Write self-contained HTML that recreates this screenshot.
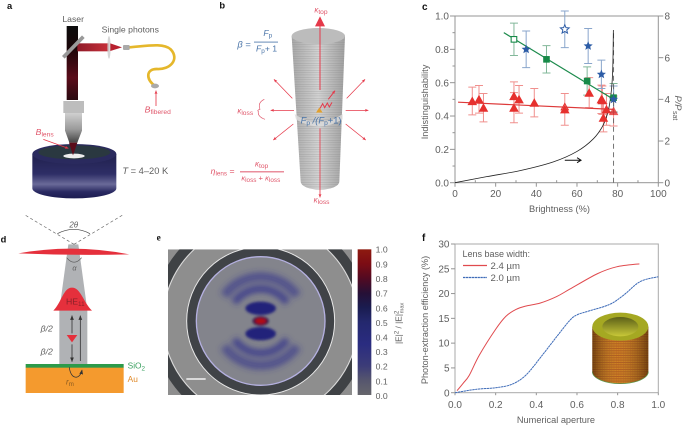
<!DOCTYPE html>
<html>
<head>
<meta charset="utf-8">
<title>Single-photon source figure</title>
<style>
html,body{margin:0;padding:0;background:#fff;width:685px;height:426px;overflow:hidden}
svg{display:block;filter:blur(.35px)}
text{font-family:"Liberation Sans",sans-serif;fill:#5f5f5f}
.it{font-style:italic}
.panel{font-weight:bold;fill:#111;font-size:10px}
.red{fill:#e0566a}
.blue{fill:#4a74a8}
</style>
</head>
<body>
<svg id="fig" xmlns="http://www.w3.org/2000/svg" width="685" height="426" viewBox="0 0 685 426">
<defs>
<linearGradient id="laserGrad" x1="0" y1="0" x2="0" y2="1"><stop offset="0" stop-color="#0c0c0c"/><stop offset=".3" stop-color="#1a0508"/><stop offset=".7" stop-color="#5a0c1a"/><stop offset="1" stop-color="#2a0a10"/></linearGradient>
<linearGradient id="beamGrad" x1="0" y1="0" x2="1" y2="0"><stop offset="0" stop-color="#8e1a28"/><stop offset="1" stop-color="#c8303a"/></linearGradient>
<linearGradient id="objGrad" x1="0" y1="0" x2="0" y2="1"><stop offset="0" stop-color="#d0d0d0"/><stop offset=".55" stop-color="#9a9a9a"/><stop offset="1" stop-color="#444"/></linearGradient>
<linearGradient id="cryoGrad" x1="0" y1="0" x2="0" y2="1"><stop offset="0" stop-color="#20204e"/><stop offset=".45" stop-color="#2e2e66"/><stop offset=".68" stop-color="#6a6a98"/><stop offset=".85" stop-color="#2a2a62"/><stop offset="1" stop-color="#1c1c50"/></linearGradient>
<linearGradient id="cylGrad" x1="0" y1="0" x2="1" y2="0"><stop offset="0" stop-color="#a8a8a8"/><stop offset=".5" stop-color="#d2d2d2"/><stop offset="1" stop-color="#a0a0a0"/></linearGradient>
<pattern id="stripes" width="8" height="7" patternUnits="userSpaceOnUse"><rect width="8" height="7" fill="none"/><rect y="0" width="8" height="1.6" fill="#777" opacity=".35"/></pattern>
<pattern id="insetStripes" width="7" height="7" patternUnits="userSpaceOnUse"><rect width="7" height="7" fill="#c8781e"/><rect y="0" width="7" height="2.5" fill="#a0481c"/><rect x="0" width="2" height="7" fill="#a8501c" opacity=".5"/></pattern>
<linearGradient id="insetShade" x1="0" y1="0" x2="1" y2="0"><stop offset="0" stop-color="#4a2a08" stop-opacity=".65"/><stop offset=".45" stop-color="#e8b040" stop-opacity=".15"/><stop offset="1" stop-color="#4a2a08" stop-opacity=".65"/></linearGradient>
<linearGradient id="insetInner" x1="0" y1="0" x2="0" y2="1"><stop offset="0" stop-color="#5c6018"/><stop offset="1" stop-color="#c8c838"/></linearGradient>
<linearGradient id="cbarGrad" x1="0" y1="1" x2="0" y2="0">
<stop offset="0" stop-color="#66666c"/><stop offset=".1" stop-color="#56566e"/><stop offset=".2" stop-color="#3c3c78"/><stop offset=".35" stop-color="#2a2c80"/><stop offset=".5" stop-color="#24286e"/><stop offset=".6" stop-color="#1a1c50"/><stop offset=".7" stop-color="#261036"/><stop offset=".8" stop-color="#520a22"/><stop offset=".9" stop-color="#7c0c14"/><stop offset="1" stop-color="#8e1a10"/></linearGradient>
<filter id="soft" x="-30%" y="-30%" width="160%" height="160%"><feGaussianBlur stdDeviation="9"/></filter>
<filter id="soft2" x="-30%" y="-30%" width="160%" height="160%"><feGaussianBlur stdDeviation="4"/></filter>
<clipPath id="semClip"><rect x="54" y="103" width="552" height="437"/></clipPath>
<marker id="ah" viewBox="0 0 10 10" refX="9" refY="5" markerWidth="11" markerHeight="11" markerUnits="userSpaceOnUse" orient="auto"><path d="M0 1 L10 5 L0 9 L2 5 Z" fill="#e5394a"/></marker>
<marker id="ahBig" viewBox="0 0 10 10" refX="9" refY="5" markerWidth="30" markerHeight="30" markerUnits="userSpaceOnUse" orient="auto"><path d="M0 0 L10 5 L0 10 Z" fill="#e5394a"/></marker>
<marker id="ahDark" viewBox="0 0 10 10" refX="9" refY="5" markerWidth="14" markerHeight="14" markerUnits="userSpaceOnUse" orient="auto"><path d="M0 1 L10 5 L0 9 Z" fill="#333"/></marker>
</defs>

<!-- PANEL A -->
<g id="panel-a" transform="scale(.33333)">
<text x="21" y="27" class="panel" style="font-size:28px">a</text>
<text x="187" y="66" font-size="26">Laser</text>
<text x="305" y="98" font-size="26">Single photons</text>
<rect x="200" y="78" width="34" height="222" fill="url(#laserGrad)"/>
<rect x="232" y="130" width="94" height="24" fill="url(#beamGrad)"/>
<path d="M190 172 L250 110" stroke="#999" stroke-width="11"/>
<ellipse cx="327" cy="142" rx="5" ry="34" fill="#ccc" opacity=".8"/>
<path d="M331 130 L366 142 L331 153 Z" fill="#b8212f"/>
<path d="M388 142 C440 138 490 128 512 148 C540 178 510 210 470 207 C440 207 435 235 465 258" fill="none" stroke="#e5b72b" stroke-width="8"/>
<rect x="369" y="135" width="20" height="15" rx="3" fill="#aaa"/>
<ellipse cx="465" cy="258" rx="12" ry="7" fill="#aaa"/>
<path d="M468 318 L468 272" stroke="#e5394a" stroke-width="2.5" marker-end="url(#ah)"/>
<text x="434" y="337" font-size="26" class="it red">B<tspan font-size="20" dy="5" font-style="normal">fibered</tspan></text>
<rect x="190" y="303" width="62" height="36" fill="#bdbdbd"/>
<path d="M195 339 L246 339 L246 392 L232 428 L208 428 L195 392 Z" fill="url(#objGrad)"/>
<path d="M97 462 L97 565 A125 30 0 0 0 349 565 L349 462 Z" fill="url(#cryoGrad)"/>
<ellipse cx="223" cy="462" rx="126" ry="30" fill="#2a2a5e"/>
<ellipse cx="223" cy="457" rx="108" ry="21" fill="#2a3840"/>
<ellipse cx="222" cy="468" rx="32" ry="7" fill="#eee"/>
<path d="M207 428 L232 428 L219 466 Z" fill="#5a0c1a"/>
<path d="M130 418 L205 445" stroke="#e5394a" stroke-width="2.5" marker-end="url(#ah)"/>
<text x="107" y="405" font-size="26" class="it red">B<tspan font-size="20" dy="5" font-style="normal">lens</tspan></text>
<text x="367" y="522" font-size="28"><tspan class="it">T</tspan> = 4–20 K</text>
</g>

<!-- PANEL B -->
<g id="panel-b" transform="translate(200,0) scale(.33333)">
<text x="58" y="26" class="panel" style="font-size:28px">b</text>
<path d="M275 108 L302 545 A58 24 0 0 0 418 545 L435 108 Z" fill="url(#cylGrad)"/>
<path d="M275 108 L302 545 A58 24 0 0 0 418 545 L435 108 Z" fill="url(#stripes)"/>
<ellipse cx="355" cy="108" rx="80" ry="24" fill="#bcbcbc"/>
<path d="M284 342 Q355 392 428 342 L428 358 Q355 400 288 358 Z" fill="#dcdcdc" opacity=".8"/>
<path d="M360 270 L360 52" stroke="#e5394a" stroke-width="3" marker-end="url(#ahBig)"/>
<path d="M360 385 L360 592" stroke="#e5394a" stroke-width="2.5" marker-end="url(#ah)"/>
<path d="M277 295 L222 238" stroke="#e5394a" stroke-width="2.2" marker-end="url(#ah)"/>
<path d="M282 331 L212 331" stroke="#e5394a" stroke-width="2.2" marker-end="url(#ah)"/>
<path d="M280 372 L220 420" stroke="#e5394a" stroke-width="2.2" marker-end="url(#ah)"/>
<path d="M440 295 L495 238" stroke="#e5394a" stroke-width="2.2" marker-end="url(#ah)"/>
<path d="M437 331 L505 331" stroke="#e5394a" stroke-width="2.2" marker-end="url(#ah)"/>
<path d="M437 372 L497 420" stroke="#e5394a" stroke-width="2.2" marker-end="url(#ah)"/>
<path d="M348 338 L358 322 L368 338 Z" fill="#e0a030"/>
<path d="M360 325 l8 -14 l6 12 l8 -14 l6 12 l8 -14" fill="none" stroke="#e5394a" stroke-width="3"/>
<path d="M385 298 L405 272" stroke="#e5394a" stroke-width="3" marker-end="url(#ah)"/>
<text x="302" y="370" font-size="28" class="it blue">F<tspan font-size="20" dy="5" font-style="normal">p</tspan><tspan dy="-5"> /(F</tspan><tspan font-size="20" dy="5" font-style="normal">p</tspan><tspan dy="-5" font-style="normal">+1)</tspan></text>
<text x="343" y="38" font-size="24" class="it red">κ<tspan font-size="20" dy="4" font-style="normal">top</tspan></text>
<text x="341" y="608" font-size="24" class="it red">κ<tspan font-size="20" dy="4" font-style="normal">loss</tspan></text>
<text x="112" y="341" font-size="24" class="it red">κ<tspan font-size="20" dy="4" font-style="normal">loss</tspan></text>
<path d="M193 298 Q172 308 180 328 Q170 331 175 334 Q172 350 195 358" fill="none" stroke="#e0566a" stroke-width="2"/>
<text x="112" y="142" font-size="28" class="it blue">β =</text>
<text x="190" y="108" font-size="26" class="it blue">F<tspan font-size="19" dy="5" font-style="normal">p</tspan></text>
<rect x="162" y="125" width="72" height="2.5" fill="#4a74a8"/>
<text x="168" y="154" font-size="26" class="it blue">F<tspan font-size="19" dy="5" font-style="normal">p</tspan><tspan dy="-5" font-style="normal">+ 1</tspan></text>
<text x="32" y="522" font-size="26" class="it red">η<tspan font-size="19" dy="5" font-style="normal">lens</tspan><tspan dy="-5" font-style="normal"> =</tspan></text>
<text x="165" y="500" font-size="24" class="it red">κ<tspan font-size="20" dy="4" font-style="normal">top</tspan></text>
<rect x="120" y="514" width="132" height="3" fill="#e0566a"/>
<text x="124" y="542" font-size="23" class="it red">κ<tspan font-size="19" dy="4" font-style="normal">loss</tspan><tspan dy="-4" font-style="normal"> + </tspan>κ<tspan font-size="19" dy="4" font-style="normal">loss</tspan></text>
</g>

<!-- PANEL D -->
<g id="panel-d" transform="translate(0,215) scale(.33333)">
<text x="2" y="82" class="panel" style="font-size:28px">d</text>
<path d="M222 88 L75 0 M222 88 L368 0" fill="none" stroke="#666" stroke-width="2" stroke-dasharray="9 7"/>
<path d="M172 56 Q222 30 270 56" fill="none" stroke="#444" stroke-width="2"/>
<text x="208" y="37" font-size="24" class="it">2θ</text>
<path d="M205 88 L235 88 L262 285 L262 450 L178 450 L178 285 Z" fill="#b0b2b5"/>
<path d="M55 115 Q220 85 388 118 Q220 122 55 115 Z" fill="#e5303c"/>
<path d="M200 128 Q222 155 245 128" fill="none" stroke="#555" stroke-width="2"/>
<text x="217" y="167" font-size="22" class="it">α</text>
<path d="M160 287 C185 262 190 218 216 218 C242 218 250 262 276 287 Z" fill="#e5303c"/>
<text x="198" y="268" font-size="26" style="fill:#8a2028">HE<tspan font-size="19" dy="5">11</tspan></text>
<path d="M216 355 L216 302" stroke="#333" stroke-width="2.4" fill="none" marker-end="url(#ahDark)"/>
<path d="M216 388 L216 440" stroke="#333" stroke-width="2.4" fill="none" marker-end="url(#ahDark)"/>
<path d="M241 438 L241 302" stroke="#333" stroke-width="2.4" fill="none" marker-end="url(#ahDark)"/>
<path d="M200 360 L232 360 L216 382 Z" fill="#e5303c"/>
<text x="122" y="349" font-size="26" class="it">β/2</text>
<text x="122" y="418" font-size="26" class="it">β/2</text>
<rect x="77" y="457" width="294" height="77" fill="#f49a2e"/>
<rect x="77" y="447" width="294" height="11" fill="#2c9a4a"/>
<path d="M208 457 C212 495 240 495 246 465" fill="none" stroke="#333" stroke-width="2.2" marker-end="url(#ahDark)"/>
<text x="198" y="508" font-size="24" class="it" style="fill:#8a5a20">r<tspan font-size="19" dy="5" font-style="normal">m</tspan></text>
<text x="383" y="461" font-size="25" style="fill:#3aa060">SiO<tspan font-size="19" dy="5">2</tspan></text>
<text x="383" y="501" font-size="25" style="fill:#e08a2a">Au</text>
</g>

<!-- PANEL E -->
<g id="panel-e" transform="translate(150,215) scale(.33333)">
<text x="20" y="77" class="panel" style="font-size:28px;font-family:'Liberation Serif',serif">e</text>
<g clip-path="url(#semClip)">
<rect x="54" y="103" width="552" height="437" fill="#8e8e8e"/>
<circle cx="332" cy="318" r="310" fill="none" stroke="#3f4245" stroke-width="30"/>
<circle cx="332" cy="318" r="293" fill="none" stroke="#dcdcdc" stroke-width="3"/>
<circle cx="332" cy="318" r="208" fill="none" stroke="#404347" stroke-width="28"/>
<circle cx="332" cy="318" r="222" fill="none" stroke="#e8e8e8" stroke-width="3"/>
<circle cx="332" cy="318" r="193" fill="#83848c" stroke="#b4b0e0" stroke-width="4"/>
<g fill="none" stroke="#34348c" filter="url(#soft)">
<path d="M223 242 A133 133 0 0 1 441 242" stroke-width="28" opacity=".6"/>
<path d="M253 263 A96 96 0 0 1 411 263" stroke-width="22" opacity=".8"/>
<path d="M223 394 A133 133 0 0 0 441 394" stroke-width="28" opacity=".6"/>
<path d="M253 373 A96 96 0 0 0 411 373" stroke-width="22" opacity=".8"/>
</g>
<g filter="url(#soft2)">
<ellipse cx="332" cy="280" rx="46" ry="20" fill="#22227a"/>
<ellipse cx="332" cy="356" rx="46" ry="20" fill="#22227a"/>
<ellipse cx="332" cy="318" rx="24" ry="14" fill="#2a1040"/>
<ellipse cx="332" cy="318" rx="17" ry="9" fill="#b00c14"/>
</g>
<rect x="109" y="490" width="58" height="4" fill="#fff"/>
</g>
<rect x="623" y="103" width="41" height="437" fill="url(#cbarGrad)"/>
<g font-size="26">
<text x="677" y="113">1.0</text><text x="677" y="157">0.9</text><text x="677" y="201">0.8</text><text x="677" y="245">0.7</text><text x="677" y="289">0.6</text><text x="677" y="333">0.5</text><text x="677" y="377">0.4</text><text x="677" y="420">0.3</text><text x="677" y="464">0.2</text><text x="677" y="508">0.1</text><text x="677" y="552">0.0</text>
</g>
<text transform="translate(755,325) rotate(-90)" text-anchor="middle" font-size="25">|E|<tspan font-size="18" dy="-9">2</tspan><tspan dy="9"> / |E|</tspan><tspan font-size="18" dy="-9">2</tspan><tspan font-size="17" dy="14" dx="-8">max</tspan></text>
</g>

<g id="chart-c"></g>
<g id="chart-f"></g>

<!-- Inset of panel F -->
<g id="panel-f-inset" transform="translate(420,215) scale(.33333)">
<path d="M517 335 L517 470 A84 36 0 0 0 685 470 L685 335 Z" fill="url(#insetStripes)"/>
<path d="M517 335 L517 470 A84 36 0 0 0 685 470 L685 335 Z" fill="url(#insetShade)"/>
<path d="M517 470 A84 36 0 0 0 685 470" fill="none" stroke="#5a9a50" stroke-width="2"/>
<ellipse cx="601" cy="335" rx="84" ry="42" fill="#a5a822"/>
<ellipse cx="601" cy="335" rx="54" ry="29" fill="url(#insetInner)"/>
</g>
<text x="422" y="10" class="panel">c</text>
<text x="422" y="241" class="panel">f</text>
</svg>

<script>
// ---- Panel c data ----
const brightnessTicks = [0, 20, 40, 60, 80, 100];
const indistTicks = [0, 0.2, 0.4, 0.6, 0.8, 1.0];
const powerTicks = [0, 2, 4, 6, 8];
const redX = [8.5, 11.8, 14, 29, 29, 31.5, 39, 54, 66, 72, 72.5, 73, 74.5, 78];
const redY = [0.49, 0.50, 0.45, 0.52, 0.45, 0.50, 0.48, 0.44, 0.54, 0.50, 0.495, 0.39, 0.44, 0.43];
const redErr = [0.083, 0.083, 0.085, 0.085, 0.09, 0.083, 0.085, 0.095, 0.09, 0.085, 0.085, 0.085, 0.095, 0.09];
const redOpenX = [54];
const redOpenY = [0.455];
const greenX = [45, 65, 78];
const greenY = [0.74, 0.61, 0.51];
const greenErr = [0.082, 0.085, 0.085];
const greenOpenX = [29];
const greenOpenY = [0.86];
const greenOpenErr = [0.097];
const blueX = [35, 65.5, 72, 78];
const blueY = [0.80, 0.82, 0.65, 0.50];
const blueErr = [0.11, 0.105, 0.085, 0.08];
const blueOpenX = [54];
const blueOpenY = [0.92];
const blueOpenErr = [0.11];
const greenFitX = [24, 78];
const greenFitY = [0.90, 0.50];
const redFitX = [1.5, 78];
const redFitY = [0.483, 0.44];
const powerX = [0, 15.6, 32, 48.4, 60, 68, 72.8, 75.5, 77, 77.6, 77.9];
const powerY = [0, 0.29, 0.58, 1.0, 1.5, 2.1, 2.75, 3.5, 4.5, 5.5, 7.33];
const saturationX = [78];
const saturationTop = [7.3];

// ---- Panel f data ----
const apertureTicks = [0, 0.2, 0.4, 0.6, 0.8, 1.0];
const efficiencyTicks = [0, 5, 10, 15, 20, 25, 30];
const aperture24 = [0.01, 0.04, 0.07, 0.12, 0.2, 0.25, 0.3, 0.35, 0.42, 0.5, 0.565, 0.7, 0.795, 0.907];
const efficiency24 = [0.4, 1.9, 3.5, 7.6, 12.8, 15.4, 16.8, 17.5, 18.1, 19.4, 20.9, 24, 25.4, 26];
const aperture20 = [0, 0.107, 0.2, 0.28, 0.35, 0.43, 0.5, 0.565, 0.6, 0.66, 0.76, 0.83, 0.91, 1.0];
const efficiency20 = [0, 0.7, 1, 1.7, 3.6, 7.6, 11.3, 14.6, 15.7, 16.5, 17.8, 19.7, 22.4, 23.4];

const SVGNS = 'http://www.w3.org/2000/svg';
function mk(tag, attrs, parent) {
  const el = document.createElementNS(SVGNS, tag);
  for (const k in attrs) el.setAttribute(k, attrs[k]);
  parent.appendChild(el);
  return el;
}
function smooth(pts) {
  let d = 'M' + pts[0][0].toFixed(2) + ' ' + pts[0][1].toFixed(2);
  for (let i = 0; i < pts.length - 1; i++) {
    const p0 = pts[Math.max(i - 1, 0)], p1 = pts[i], p2 = pts[i + 1], p3 = pts[Math.min(i + 2, pts.length - 1)];
    const c1x = p1[0] + (p2[0] - p0[0]) / 6, c1y = p1[1] + (p2[1] - p0[1]) / 6;
    const c2x = p2[0] - (p3[0] - p1[0]) / 6, c2y = p2[1] - (p3[1] - p1[1]) / 6;
    d += ' C' + c1x.toFixed(2) + ' ' + c1y.toFixed(2) + ' ' + c2x.toFixed(2) + ' ' + c2y.toFixed(2) + ' ' + p2[0].toFixed(2) + ' ' + p2[1].toFixed(2);
  }
  return d;
}

// ---- Axis scales ----
const cLeft = 455, cRight = 658.3, cTop = 16, cBottom = 182.7;
const cx = v => cLeft + (v / 100) * (cRight - cLeft);
const cy = v => cBottom - v * (cBottom - cTop);
const cp = v => cBottom - (v / 8) * (cBottom - cTop);
const fLeft = 455, fRight = 658.3, fTop = 244, fBottom = 392.7;
const fx = v => fLeft + v * (fRight - fLeft);
const fy = v => fBottom - (v / 30) * (fBottom - fTop);

const AXIS = '#949494';
const gc = document.getElementById('chart-c');
const gf = document.getElementById('chart-f');

// ---- Panel c frame ----
const cFrame = mk('rect', {x: cLeft, y: cTop, width: cRight - cLeft, height: cBottom - cTop, fill: 'none', stroke: AXIS, 'stroke-width': 1}, gc);



for (let i = 0; i <= 10; i++) {
  const v = i * 10;
  const tick = mk('line', {x1: cx(v), x2: cx(v), y1: cBottom, y2: cBottom + (i % 2 ? -2.5 : 4), stroke: AXIS}, gc);
  
  
}
brightnessTicks.forEach(v => {
  const t = mk('text', {x: cx(v), y: 197, 'text-anchor': 'middle', 'font-size': 10}, gc);
  t.textContent = String(v);
  
  
});
for (let i = 0; i <= 10; i++) {
  const tick = mk('line', {x1: cLeft, x2: cLeft - (i % 2 ? 2.5 : 5), y1: cy(i / 10), y2: cy(i / 10), stroke: AXIS}, gc);
  
  
}
indistTicks.forEach(v => {
  const t = mk('text', {x: 449, y: cy(v) + 3.6, 'text-anchor': 'end', 'font-size': 10}, gc);
  t.textContent = v.toFixed(1);
  
  
});
powerTicks.forEach(v => {
  const tick = mk('line', {x1: cRight, x2: cRight + 5, y1: cp(v), y2: cp(v), stroke: AXIS}, gc);
  
  
  const t = mk('text', {x: 664.5, y: cp(v) + 3.6, 'font-size': 10}, gc);
  t.textContent = String(v);
  
  
});
const xTitleC = mk('text', {x: 559.5, y: 212, 'text-anchor': 'middle', 'font-size': 9.3}, gc);
xTitleC.textContent = 'Brightness (%)';


const yTitleC = mk('text', {transform: 'translate(428,102) rotate(-90)', 'text-anchor': 'middle', 'font-size': 9.2}, gc);
yTitleC.textContent = 'Indistinguishability';


const rTitle = mk('text', {transform: 'translate(675,103) rotate(90)', 'text-anchor': 'middle', 'font-size': 9.3, 'font-style': 'italic'}, gc);
rTitle.textContent = 'P/P';


const rSub = mk('text', {transform: 'translate(673,111) rotate(90)', 'font-size': 7}, gc);
rSub.textContent = 'sat';



// ---- Panel c marks ----
function errorBar(group, x, y, err, color, name) {
  const d = 'M' + (x - 4) + ' ' + (y - err) + 'h8M' + (x - 4) + ' ' + (y + err) + 'h8M' + x + ' ' + (y - err) + 'V' + (y + err);
  const el = mk('path', {d: d, stroke: color, 'stroke-width': 1, fill: 'none'}, group);
  
  
}
function errs(xs, ys, es, color, name) {
  xs.forEach((v, i) => {
    const py = cy(ys[i]);
    errorBar(gc, cx(v), py, py - cy(ys[i] + es[i]), color, name);
  });
}
errs(redX, redY, redErr, '#f0908e', 'red-error-bar');
errs(greenX, greenY, greenErr, '#82b89a', 'green-error-bar');
errs(greenOpenX, greenOpenY, greenOpenErr, '#82b89a', 'green-open-error-bar');
errs(blueX, blueY, blueErr, '#8aa6cc', 'blue-error-bar');
errs(blueOpenX, blueOpenY, blueOpenErr, '#8aa6cc', 'blue-open-error-bar');

const redFit = mk('path', {d: 'M' + cx(redFitX[0]) + ' ' + cy(redFitY[0]) + 'L' + cx(redFitX[1]) + ' ' + cy(redFitY[1]), stroke: '#dd3a3a', 'stroke-width': 1.2, fill: 'none'}, gc);


const greenFit = mk('path', {d: 'M' + cx(greenFitX[0]) + ' ' + cy(greenFitY[0]) + 'L' + cx(greenFitX[1]) + ' ' + cy(greenFitY[1]), stroke: '#1b8a4b', 'stroke-width': 1.2, fill: 'none'}, gc);



const sat = mk('line', {x1: cx(saturationX[0]), x2: cx(saturationX[0]), y1: cp(0), y2: cp(saturationTop[0]), stroke: '#666', 'stroke-width': 0.9, 'stroke-dasharray': '5 3.5'}, gc);


const powerPath = mk('path', {d: smooth(powerX.map((v, i) => [cx(v), cp(powerY[i])])), stroke: '#222', 'stroke-width': 0.8, fill: 'none'}, gc);


const powerArrow = mk('path', {d: 'M' + cx(54) + ' ' + cp(1.08) + 'H' + cx(62) + 'M' + (cx(62) - 4) + ' ' + (cp(1.08) - 2.5) + 'L' + cx(62) + ' ' + cp(1.08) + 'L' + (cx(62) - 4) + ' ' + (cp(1.08) + 2.5), stroke: '#111', 'stroke-width': 1, fill: 'none'}, gc);



function triangle(x, y, r) { return (x - r) + ',' + (y + r * 0.85) + ' ' + (x + r) + ',' + (y + r * 0.85) + ' ' + x + ',' + (y - r * 0.95); }
function star(x, y, r) {
  const pts = [];
  for (let i = 0; i < 10; i++) {
    const a = -Math.PI / 2 + i * Math.PI / 5, rr = i % 2 ? r * 0.45 : r;
    pts.push((x + rr * Math.cos(a)).toFixed(2) + ',' + (y + rr * Math.sin(a)).toFixed(2));
  }
  return pts.join(' ');
}
redX.forEach((v, i) => {
  const m = mk('polygon', {points: triangle(cx(v), cy(redY[i]), 4.8), fill: '#e6302e', 'fill-opacity': i === 13 ? 0.8 : 1}, gc);
  
  
});
redOpenX.forEach((v, i) => {
  const m = mk('polygon', {points: triangle(cx(v), cy(redOpenY[i]), 3.6), fill: 'none', stroke: '#e6302e', 'stroke-width': 1}, gc);
  
  
});
greenX.forEach((v, i) => {
  const m = mk('rect', {x: cx(v) - 3.3, y: cy(greenY[i]) - 3.3, width: 6.6, height: 6.6, fill: '#178a48'}, gc);
  
  
});
greenOpenX.forEach((v, i) => {
  const m = mk('rect', {x: cx(v) - 2.8, y: cy(greenOpenY[i]) - 2.8, width: 5.6, height: 5.6, fill: '#fff', stroke: '#178a48', 'stroke-width': 1.1}, gc);
  
  
});
blueX.forEach((v, i) => {
  const m = mk('polygon', {points: star(cx(v), cy(blueY[i]), 4.8), fill: '#2c5ca6'}, gc);
  
  
});
blueOpenX.forEach((v, i) => {
  const m = mk('polygon', {points: star(cx(v), cy(blueOpenY[i]), 4.6), fill: '#fff', stroke: '#2c5ca6', 'stroke-width': 1}, gc);
  
  
});

// ---- Panel f ----
const fFrame = mk('rect', {x: fLeft, y: fTop, width: fRight - fLeft, height: fBottom - fTop, fill: 'none', stroke: '#a8a8a8', 'stroke-width': 1}, gf);


apertureTicks.forEach(v => {
  const tick = mk('line', {x1: fx(v), x2: fx(v), y1: fBottom, y2: fBottom + 2.5, stroke: AXIS}, gf);
  
  
  const t = mk('text', {x: fx(v), y: 408, 'text-anchor': 'middle', 'font-size': 10}, gf);
  t.textContent = v.toFixed(1);
  
  
});
efficiencyTicks.forEach(v => {
  const tick = mk('line', {x1: fLeft, x2: fLeft - 4, y1: fy(v), y2: fy(v), stroke: AXIS}, gf);
  
  
  const t = mk('text', {x: 449.5, y: fy(v) + 3.6, 'text-anchor': 'end', 'font-size': 10}, gf);
  t.textContent = String(v);
  
  
});
const xTitleF = mk('text', {x: 556, y: 423, 'text-anchor': 'middle', 'font-size': 9.2}, gf);
xTitleF.textContent = 'Numerical aperture';


const yTitleF = mk('text', {transform: 'translate(428,320) rotate(-90)', 'text-anchor': 'middle', 'font-size': 9.1}, gf);
yTitleF.textContent = 'Photon-extraction efficiency (%)';


const line24 = mk('path', {d: smooth(aperture24.map((v, i) => [fx(v), fy(efficiency24[i])])), stroke: '#e04a4e', 'stroke-width': 1, fill: 'none'}, gf);


const line20 = mk('path', {d: smooth(aperture20.map((v, i) => [fx(v), fy(efficiency20[i])])), stroke: '#3f6cb8', 'stroke-width': 1, 'stroke-dasharray': '2.4 .5', fill: 'none'}, gf);


const legTitle = mk('text', {x: 462.5, y: 257, 'font-size': 9}, gf);
legTitle.textContent = 'Lens base width:';


const legLine1 = mk('path', {d: 'M463 265.5H487', stroke: '#e04a4e', 'stroke-width': 1.2, fill: 'none'}, gf);


const legText1 = mk('text', {x: 490.5, y: 269, 'font-size': 9.6}, gf);
legText1.textContent = '2.4 µm';


const legLine2 = mk('path', {d: 'M463 277.5H487', stroke: '#3f6cb8', 'stroke-width': 1.2, 'stroke-dasharray': '2.4 .5', fill: 'none'}, gf);


const legText2 = mk('text', {x: 490.5, y: 281, 'font-size': 9.6}, gf);
legText2.textContent = '2.0 µm';


</script>
</body>
</html>
